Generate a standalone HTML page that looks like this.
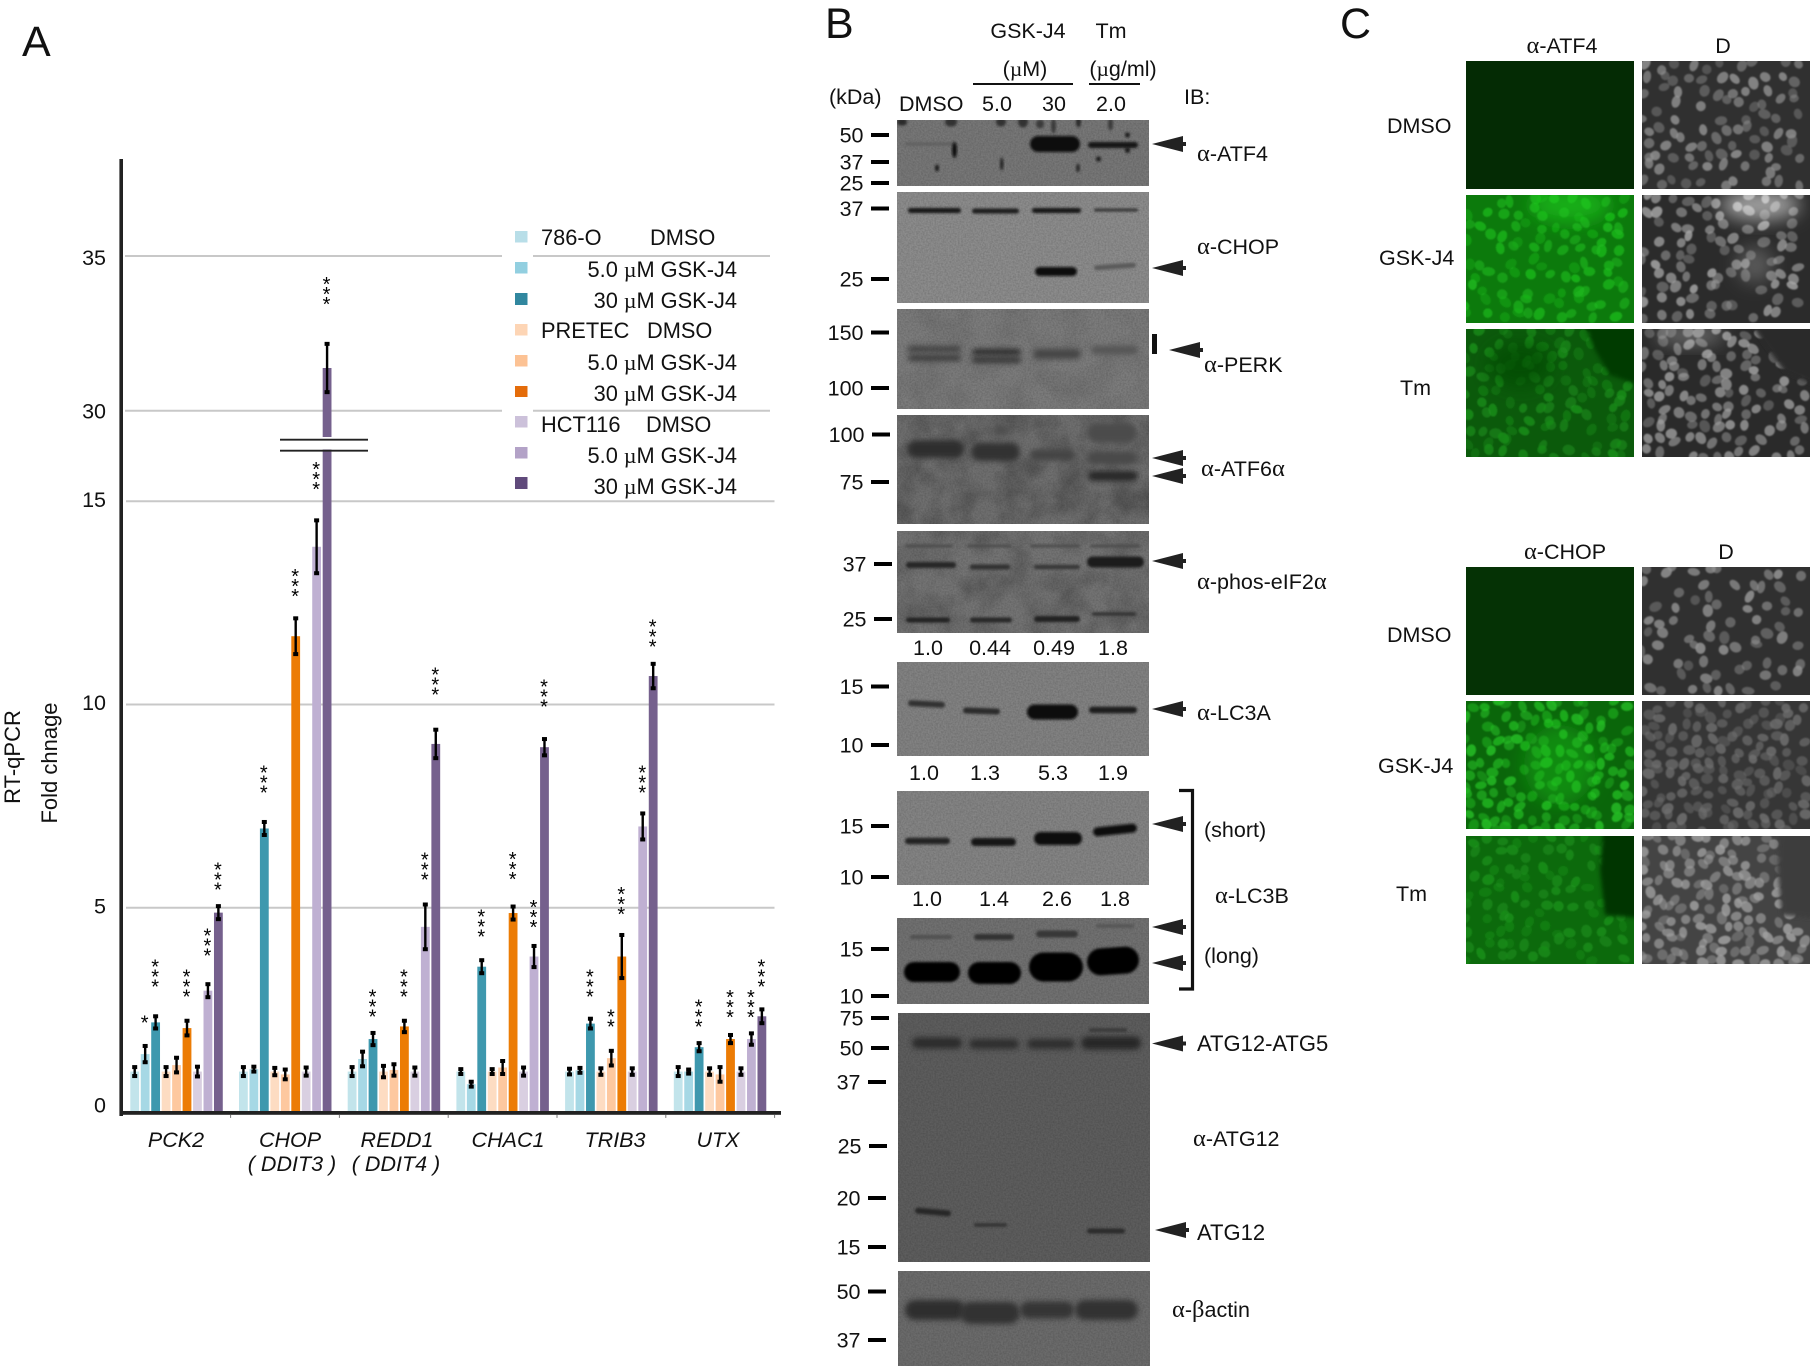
<!DOCTYPE html>
<html lang="en">
<head>
<meta charset="utf-8">
<title>GSK-J4 figure</title>
<style>
html,body{margin:0;padding:0;background:#fff}
svg{display:block}
text{font-family:"Liberation Sans",Arial,sans-serif;fill:#111;font-size:21.5px}
.g{font-family:"Liberation Serif",serif}
.a{font-size:24.5px}
.lg text{font-size:21.8px}
.lt{font-size:43px}
.it{font-style:italic}
</style>
</head>
<body>
<svg id="fig" xmlns="http://www.w3.org/2000/svg" width="1811" height="1366" viewBox="0 0 1811 1366">
<defs>
<filter id="b05" x="-20%" y="-20%" width="140%" height="140%"><feGaussianBlur stdDeviation="0.8"/></filter>
<filter id="b1" x="-30%" y="-300%" width="160%" height="700%"><feGaussianBlur stdDeviation="1.4"/></filter>
<filter id="b2" x="-30%" y="-300%" width="160%" height="700%"><feGaussianBlur stdDeviation="2.8"/></filter>
<filter id="b3" x="-30%" y="-30%" width="160%" height="160%"><feGaussianBlur stdDeviation="2"/></filter>
<filter id="b8" x="-50%" y="-50%" width="200%" height="200%"><feGaussianBlur stdDeviation="9"/></filter>
<filter id="noise" x="0" y="0" width="100%" height="100%"><feTurbulence type="fractalNoise" baseFrequency="0.6" numOctaves="2" seed="3"/><feColorMatrix values="0 0 0 0 0  0 0 0 0 0  0 0 0 0 0  1.2 0 0 0 -0.35"/></filter>
<filter id="mottle" x="0" y="0" width="100%" height="100%"><feTurbulence type="fractalNoise" baseFrequency="0.035" numOctaves="3" seed="8"/><feColorMatrix values="0 0 0 0 0  0 0 0 0 0  0 0 0 0 0  1.6 0 0 0 -0.55"/></filter>
</defs>

<g id="panel-a">
<text class="lt" x="22" y="56">A</text>
<g id="grid"></g>
<g id="yticks"></g>
<g id="bars"></g>
<g id="brk"></g>
<g id="errs"></g>
<g id="stars"></g>
<rect x="119.4" y="159" width="3.6" height="957" fill="#222"/>
<rect x="120" y="1111" width="661" height="3.8" fill="#222"/>
<g id="xticks"></g>
<text transform="translate(20,757) rotate(-90)" text-anchor="middle" style="font-size:22px">RT-qPCR</text>
<text transform="translate(57,763) rotate(-90)" text-anchor="middle" style="font-size:22px">Fold chnage</text>
<g class="it">
<text class="it" x="176" y="1147" text-anchor="middle">PCK2</text>
<text class="it" x="290" y="1147" text-anchor="middle">CHOP</text>
<text class="it" x="292" y="1171" text-anchor="middle">( DDIT3 )</text>
<text class="it" x="397" y="1147" text-anchor="middle">REDD1</text>
<text class="it" x="396" y="1171" text-anchor="middle">( DDIT4 )</text>
<text class="it" x="508" y="1147" text-anchor="middle">CHAC1</text>
<text class="it" x="615" y="1147" text-anchor="middle">TRIB3</text>
<text class="it" x="718" y="1147" text-anchor="middle">UTX</text>
</g>
<g class="lg">
<rect x="515" y="231" width="12.5" height="11.5" fill="#b8dee8"/>
<rect x="515" y="262" width="12.5" height="11.5" fill="#92cfe0"/>
<rect x="515" y="293" width="12.5" height="12" fill="#31879f"/>
<rect x="515" y="324" width="12.5" height="11.5" fill="#fdd5b5"/>
<rect x="515" y="355" width="12.5" height="11.5" fill="#fcc294"/>
<rect x="515" y="386" width="12.5" height="11" fill="#e46c0a"/>
<rect x="515" y="416" width="12.5" height="11.5" fill="#ccc1da"/>
<rect x="515" y="447" width="12.5" height="11.5" fill="#b3a2c7"/>
<rect x="515" y="477" width="12.5" height="12" fill="#604a7b"/>
<text x="541" y="245">786-O</text>
<text x="650" y="245">DMSO</text>
<text x="737" y="277" text-anchor="end">5.0 <tspan class="g">µ</tspan>M GSK-J4</text>
<text x="737" y="308" text-anchor="end">30 <tspan class="g">µ</tspan>M GSK-J4</text>
<text x="541" y="338">PRETEC</text>
<text x="647" y="338">DMSO</text>
<text x="737" y="370" text-anchor="end">5.0 <tspan class="g">µ</tspan>M GSK-J4</text>
<text x="737" y="401" text-anchor="end">30 <tspan class="g">µ</tspan>M GSK-J4</text>
<text x="541" y="432">HCT116</text>
<text x="646" y="432">DMSO</text>
<text x="737" y="463" text-anchor="end">5.0 <tspan class="g">µ</tspan>M GSK-J4</text>
<text x="737" y="494" text-anchor="end">30 <tspan class="g">µ</tspan>M GSK-J4</text>
</g>
</g>

<g id="panel-b">
<text class="lt" x="825" y="38">B</text>
<g>
<text x="1028" y="38" text-anchor="middle">GSK-J4</text>
<text x="1111" y="38" text-anchor="middle">Tm</text>
<text x="1025" y="76" text-anchor="middle">(<tspan class="g">µ</tspan>M)</text>
<text x="1123" y="76" text-anchor="middle">(<tspan class="g">µ</tspan>g/ml)</text>
<rect x="973" y="83" width="100" height="2" fill="#111"/>
<rect x="1089" y="83" width="51" height="2" fill="#111"/>
<text x="829" y="104">(kDa)</text>
<text x="899" y="111">DMSO</text>
<text x="997" y="111" text-anchor="middle">5.0</text>
<text x="1054" y="111" text-anchor="middle">30</text>
<text x="1111" y="111" text-anchor="middle">2.0</text>
<text x="1184" y="104">IB:</text>
</g>
<g id="blots"></g>
<g id="mw"></g>
<g id="arrows"></g>
<rect x="1152" y="334" width="5" height="20" fill="#111"/>
<path d="M1179 790.5H1192.5V989H1179" fill="none" stroke="#111" stroke-width="3.2"/>
<g>
<text x="1197" y="161"><tspan class="g a">α</tspan>-ATF4</text>
<text x="1197" y="254"><tspan class="g a">α</tspan>-CHOP</text>
<text x="1204" y="372"><tspan class="g a">α</tspan>-PERK</text>
<text x="1201" y="476"><tspan class="g a">α</tspan>-ATF6<tspan class="g a">α</tspan></text>
<text x="1197" y="589"><tspan class="g a">α</tspan>-phos-eIF2<tspan class="g a">α</tspan></text>
<text x="1197" y="720"><tspan class="g a">α</tspan>-LC3A</text>
<text x="1204" y="837">(short)</text>
<text x="1215" y="903"><tspan class="g a">α</tspan>-LC3B</text>
<text x="1204" y="963">(long)</text>
<text x="1197" y="1051" style="font-size:22px">ATG12-ATG5</text>
<text x="1193" y="1146"><tspan class="g a">α</tspan>-ATG12</text>
<text x="1197" y="1240" style="font-size:22px">ATG12</text>
<text x="1172" y="1317"><tspan class="g a">α</tspan>-<tspan class="g a">β</tspan>actin</text>
</g>
<g>
<text x="928" y="655" text-anchor="middle">1.0</text>
<text x="990" y="655" text-anchor="middle">0.44</text>
<text x="1054" y="655" text-anchor="middle">0.49</text>
<text x="1113" y="655" text-anchor="middle">1.8</text>
<text x="924" y="780" text-anchor="middle">1.0</text>
<text x="985" y="780" text-anchor="middle">1.3</text>
<text x="1053" y="780" text-anchor="middle">5.3</text>
<text x="1113" y="780" text-anchor="middle">1.9</text>
<text x="927" y="906" text-anchor="middle">1.0</text>
<text x="994" y="906" text-anchor="middle">1.4</text>
<text x="1057" y="906" text-anchor="middle">2.6</text>
<text x="1115" y="906" text-anchor="middle">1.8</text>
</g>
</g>

<g id="panel-c">
<text class="lt" x="1340" y="38">C</text>
<g id="micro"></g>
<g>
<text x="1562" y="53" text-anchor="middle"><tspan class="g a">α</tspan>-ATF4</text>
<text x="1723" y="53" text-anchor="middle">D</text>
<text x="1387" y="133">DMSO</text>
<text x="1379" y="265">GSK-J4</text>
<text x="1400" y="395">Tm</text>
<text x="1565" y="559" text-anchor="middle"><tspan class="g a">α</tspan>-CHOP</text>
<text x="1726" y="559" text-anchor="middle">D</text>
<text x="1387" y="642">DMSO</text>
<text x="1378" y="773">GSK-J4</text>
<text x="1396" y="901">Tm</text>
</g>
</g>
</svg>

<script>
// ---- chart data (panel A) ----
const categories = ['PCK2', 'CHOP', 'REDD1', 'CHAC1', 'TRIB3', 'UTX'];
const seriesNames = ['786o-dmso', '786o-5um', '786o-30um', 'pretec-dmso', 'pretec-5um', 'pretec-30um', 'hct116-dmso', 'hct116-5um', 'hct116-30um'];
const pck2Values  = [0.97, 1.40, 2.18, 0.97, 1.13, 2.04, 0.97, 2.96, 4.88];
const chopValues  = [0.97, 1.03, 6.95, 0.97, 0.90, 11.68, 0.97, 13.88, 31.38];
const redd1Values = [0.97, 1.28, 1.77, 0.97, 1.01, 2.08, 0.97, 4.53, 9.03];
const chac1Values = [0.97, 0.66, 3.55, 0.97, 1.07, 4.87, 0.97, 3.80, 8.95];
const trib3Values = [0.97, 1.00, 2.15, 0.97, 1.30, 3.80, 0.97, 7.00, 10.70];
const utxValues   = [0.97, 0.97, 1.57, 0.97, 0.90, 1.77, 0.97, 1.77, 2.33];
const pck2Errors  = [0.11, 0.20, 0.15, 0.11, 0.18, 0.18, 0.12, 0.16, 0.16];
const chopErrors  = [0.11, 0.06, 0.16, 0.09, 0.12, 0.44, 0.10, 0.65, 0.78];
const redd1Errors = [0.11, 0.18, 0.15, 0.14, 0.14, 0.14, 0.10, 0.55, 0.35];
const chac1Errors = [0.06, 0.06, 0.16, 0.06, 0.16, 0.16, 0.10, 0.26, 0.20];
const trib3Errors = [0.07, 0.06, 0.12, 0.08, 0.18, 0.53, 0.08, 0.32, 0.30];
const utxErrors   = [0.11, 0.05, 0.10, 0.08, 0.18, 0.10, 0.08, 0.14, 0.17];
// number of significance stars per bar
const pck2Stars  = [0, 1, 3, 0, 0, 3, 0, 3, 3];
const chopStars  = [0, 0, 3, 0, 0, 3, 0, 3, 3];
const redd1Stars = [0, 0, 3, 0, 0, 3, 0, 3, 3];
const chac1Stars = [0, 0, 3, 0, 0, 3, 0, 3, 3];
const trib3Stars = [0, 0, 3, 0, 2, 3, 0, 3, 3];
const utxStars   = [0, 0, 3, 0, 0, 3, 0, 3, 3];
// axis value at which the lowest star of each annotation sits
const pck2StarLevel  = [0, 2.28, 3.16, 0, 0, 2.91, 0, 3.92, 5.55];
const chopStarLevel  = [0, 0, 7.93, 0, 0, 12.77, 0, 17.68, 33.58];
const redd1StarLevel = [0, 0, 2.42, 0, 0, 2.91, 0, 5.79, 10.34];
const chac1StarLevel = [0, 0, 4.39, 0, 0, 5.80, 0, 4.62, 10.05];
const trib3StarLevel = [0, 0, 2.91, 0, 2.18, 4.95, 0, 7.93, 11.53];
const utxStarLevel   = [0, 0, 2.18, 0, 0, 2.41, 0, 2.41, 3.16];
const yTickLabels = [0, 5, 10, 15, 30, 35];

const geneValues = [pck2Values, chopValues, redd1Values, chac1Values, trib3Values, utxValues];
const geneErrors = [pck2Errors, chopErrors, redd1Errors, chac1Errors, trib3Errors, utxErrors];
const geneStars = [pck2Stars, chopStars, redd1Stars, chac1Stars, trib3Stars, utxStars];
const geneStarLevels = [pck2StarLevel, chopStarLevel, redd1StarLevel, chac1StarLevel, trib3StarLevel, utxStarLevel];
const barColors = ['#c2e4eb', '#a6d8e5', '#3e98ae', '#fddcc2', '#fdc89f', '#ec7c05', '#d9cfe1', '#bfb0d2', '#75608d'];

const NS = 'http://www.w3.org/2000/svg';
function mk(tag, parent, attrs) {
  const el = document.createElementNS(NS, tag);
  for (const k in attrs) el.setAttribute(k, attrs[k]);
  parent.appendChild(el);
  return el;
}

// axes: y is broken between 15 and 30
function yScale(v) {
  const y0 = 1111, lowPx = 40.65, y30 = 410.7, highPx = 30.94;
  const y15 = y0 - 15 * lowPx;
  if (v <= 15) return y0 - v * lowPx;
  if (v < 30) return y15 + (v - 15) * (y30 - y15) / 15;
  return y30 - (v - 30) * highPx;
}
function xScale(gene, series) {
  return 134.7 + gene * 108.7 + series * 10.46;
}
function tickBaseline(t) {
  const y = yScale(t);
  if (t === 0) return y + 1.5;
  if (t >= 35) return y + 9;
  if (t >= 30) return y + 8;
  return y + 5.5;
}

const gridG = document.getElementById('grid');
const ytG = document.getElementById('yticks');
yTickLabels.forEach(function (t) {
  const y = yScale(t);
  if (t > 0) {
    const spans = t >= 30 ? [[125, 502], [533, 770]] : [[126, 774.5]];
    spans.forEach(function (s) {
      const ln = mk('line', gridG, { x1: s[0], x2: s[1], y1: y, y2: y, stroke: '#c8c8c8', 'stroke-width': 2 });
      
      
    });
  }
  const tx = mk('text', ytG, { x: 106, y: tickBaseline(t), 'text-anchor': 'end' });
  tx.textContent = t;
  
  
});

const barsG = document.getElementById('bars');
const errsG = document.getElementById('errs');
const starsG = document.getElementById('stars');
categories.forEach(function (cat, g) {
  seriesNames.forEach(function (sname, s) {
    const v = geneValues[g][s], e = geneErrors[g][s], cx = xScale(g, s);
    const bar = mk('rect', barsG, { x: cx - 4.4, width: 8.8, y: yScale(v), height: yScale(0) - yScale(v), fill: barColors[s] });
    
    
    const top = yScale(v + e), bot = yScale(v - e);
    const eb = mk('path', errsG, { d: 'M' + cx + ' ' + top + 'V' + bot, stroke: '#000', 'stroke-width': 2.4, fill: 'none' });
    
    
    [top, bot].forEach(function (cy) {
      const cap = mk('rect', errsG, { x: cx - 2.5, y: cy - 2, width: 5, height: 4, fill: '#000' });
      
      
    });
    for (let k = 0; k < geneStars[g][s]; k++) {
      const st = mk('text', starsG, { x: cx - 0.5, y: yScale(geneStarLevels[g][s]) - k * 10 + 11, 'text-anchor': 'middle', style: 'font-size:20px;fill:#000' });
      st.textContent = '*';
      
      
    }
  });
  const tick = mk('rect', document.getElementById('xticks'), { x: 121.8 + (g + 1) * 108.8 - 0.5, y: 1114.7, width: 1, height: 3.2, fill: '#777' });
  
  
});

// axis break
const brkG = document.getElementById('brk');
const brkGap = mk('rect', brkG, { x: 280, y: 437, width: 88, height: 12.5, fill: '#fff' });


[439.7, 450.7].forEach(function (y) {
  const l = mk('line', brkG, { x1: 280, x2: 368, y1: y, y2: y, stroke: '#222', 'stroke-width': 1.8 });
  
  
});

// ---- panel B: blots ----
const blotsG = document.getElementById('blots');
function blot(name, x, y, w, h, fill, mottle) {
  const g = mk('g', blotsG, {});
  
  
  const r = mk('rect', g, { x: x, y: y, width: w, height: h, fill: fill });
  
  
  const clipId = 'clip-' + name;
  const defs = mk('clipPath', g, { id: clipId });
  mk('rect', defs, { x: x, y: y, width: w, height: h });
  g.setAttribute('clip-path', 'url(#' + clipId + ')');
  const n = mk('rect', g, { x: x, y: y, width: w, height: h, filter: 'url(#noise)', opacity: 0.22 });
  
  
  if (mottle) {
    const m = mk('rect', g, { x: x, y: y, width: w, height: h, filter: 'url(#mottle)', opacity: mottle });
    
    
  }
  return function band(bx, by, bw, bh, color, blur, rot) {
    const b = mk('rect', g, { x: bx, y: by - bh / 2, width: bw, height: bh, rx: bh / 2, ry: bh / 2, fill: color, filter: 'url(#b' + blur + ')' });
    if (rot) b.setAttribute('transform', 'rotate(' + rot + ' ' + (bx + bw / 2) + ' ' + by + ')');
    
    
    return b;
  };
}

let b = blot('atf4', 897, 120, 252, 66, '#787878');
b(1030, 144, 50, 16, '#0a0a0a', 1);
b(1088, 145, 50, 6, '#161616', 1);
b(905, 144, 50, 3, '#5f5f5f', 1);
b(952, 150, 5, 16, '#101010', 1);
b(935, 168, 4, 7, '#161616', 1);
b(1000, 164, 3.5, 13, '#222', 1);
b(1076, 168, 4, 9, '#2a2a2a', 1);
b(1096, 159, 5, 5, '#181818', 1);
b(1125, 135, 5, 5, '#181818', 1);
b(1125, 150, 5, 6, '#181818', 1);
b(897, 122, 10, 7, '#2a2a2a', 1);
b(945, 122, 12, 9, '#333', 1);
b(996, 122, 10, 9, '#333', 1);
b(1018, 122, 10, 11, '#333', 1);
b(1036, 124, 8, 9, '#3a3a3a', 1);
b(1051, 126, 5, 15, '#3a3a3a', 1);
b(1076, 122, 5, 11, '#2a2a2a', 1);
b(1108, 124, 5, 13, '#3a3a3a', 1);

b = blot('chop', 897, 192, 252, 111, '#8d8d8d');
b(908, 210.5, 53, 5, '#151515', 1);
b(972, 211, 47, 5, '#1b1b1b', 1);
b(1032, 210.5, 49, 5, '#151515', 1);
b(1094, 210, 44, 3, '#333', 1);
b(1035, 271.5, 42, 9, '#0a0a0a', 1);
b(1094, 266.5, 42, 5, '#5a5a5a', 1, -4);

b = blot('perk', 897, 309, 252, 100, '#7d7d7d', 0.1);
b(908, 349, 53, 5, '#383838', 2);
b(908, 358, 53, 6, '#383838', 2);
b(972, 352, 49, 6, '#262626', 2);
b(972, 360, 49, 6, '#333', 2);
b(1033, 354, 48, 10, '#454545', 2);
b(1091, 350, 47, 8, '#525252', 2);

b = blot('atf6', 897, 415, 252, 109, '#707070', 0.3);
b(907, 449, 57, 18, '#2e2e2e', 2);
b(971, 452, 49, 18, '#303030', 2);
b(1030, 455, 45, 11, '#454545', 2);
b(1087, 433, 50, 20, '#4c4c4c', 2);
b(1087, 458, 50, 13, '#4a4a4a', 2);
b(1088, 476, 50, 10, '#272727', 2);
b(994, 430, 14, 10, '#4e4e4e', 2);

b = blot('phos-eif2', 897, 531, 252, 102, '#757575', 0.25);
[[905, 48], [967, 44], [1030, 50], [1090, 50]].forEach(function (p) { b(p[0], 546, p[1], 3, '#4e4e4e', 1); });
b(906, 565, 50, 6, '#262626', 1);
b(970, 567, 40, 5, '#303030', 1);
b(1034, 567, 46, 4.5, '#383838', 1);
b(1087, 562, 57, 11, '#1e1e1e', 1);
b(906, 620, 44, 5, '#222', 1);
b(970, 620, 42, 5, '#262626', 1);
b(1034, 619, 46, 6, '#222', 1);
b(1092, 614, 44, 3.5, '#333', 1);

b = blot('lc3a', 897, 662, 252, 94, '#838383');
b(908, 704, 37, 6, '#333', 1, 3);
b(963, 711, 37, 6, '#2a2a2a', 1, 2);
b(1027, 712, 51, 15, '#080808', 1);
b(1089, 710, 48, 6.5, '#1c1c1c', 1);

b = blot('lc3b-short', 897, 791, 252, 94, '#858585');
b(905, 841, 45, 6.5, '#222', 1);
b(971, 842, 45, 8, '#181818', 1);
b(1034, 838.5, 48, 13, '#0a0a0a', 1);
b(1093, 830, 44, 9, '#0a0a0a', 1, -6);

b = blot('lc3b-long', 897, 918, 252, 86, '#727272');
b(910, 937, 42, 4, '#505050', 1);
b(974, 937, 40, 6, '#333', 1);
b(1036, 934, 42, 7, '#383838', 1);
b(1096, 926, 38, 3.5, '#555', 1);
b(904, 972, 56, 20, '#030303', 1);
b(968, 973, 53, 22, '#030303', 1);
b(1029, 967, 54, 29, '#030303', 1);
b(1087, 961, 52, 27, '#030303', 1, -4);

b = blot('atg12', 898, 1013, 252, 249, '#5e5e5e');
b(912, 1043, 50, 11, '#2a2a2a', 2);
b(969, 1044, 50, 10, '#2e2e2e', 2);
b(1027, 1044, 48, 10, '#2e2e2e', 2);
b(1081, 1043, 60, 13, '#282828', 2);
b(1089, 1030, 38, 3.5, '#383838', 1);
b(915, 1212, 36, 6, '#262626', 1, 5);
b(974, 1225, 33, 3.5, '#333', 1);
b(1087, 1231, 38, 5, '#2c2c2c', 1);

b = blot('beta-actin', 898, 1271, 252, 95, '#6c6c6c');
b(905, 1310, 60, 20, '#2e2e2e', 2);
b(960, 1313, 60, 22, '#303030', 2);
b(1020, 1310, 54, 17, '#363636', 2);
b(1075, 1310, 63, 20, '#303030', 2);

// MW markers
const mwG = document.getElementById('mw');
function mw(label, y, x0) {
  const t = mk('rect', mwG, { x: x0, y: y - 2, width: 18, height: 4, fill: '#000' });
  
  
  const tx = mk('text', mwG, { x: x0 - 7.5, y: y + 7.5, 'text-anchor': 'end' });
  tx.textContent = label;
  
  
}
mw('50', 135, 871); mw('37', 162, 871); mw('25', 183, 871);
mw('37', 208.5, 871); mw('25', 279, 871);
mw('150', 332.5, 871); mw('100', 388, 871);
mw('100', 434.5, 872); mw('75', 482, 871);
mw('37', 564, 874); mw('25', 619, 874);
mw('15', 686.5, 871); mw('10', 745, 871);
mw('15', 826, 871); mw('10', 877, 871);
mw('15', 949, 871); mw('10', 996, 871);
mw('75', 1018, 871); mw('50', 1048, 871); mw('37', 1082, 868); mw('25', 1146, 869); mw('20', 1198, 868); mw('15', 1247, 868);
mw('50', 1291.5, 868); mw('37', 1340, 868);

// arrows
const arG = document.getElementById('arrows');
function arrow(x, y) {
  const p = mk('polygon', arG, { points: [x, y, x + 31, y - 8, x + 31, y - 2, x + 34, y - 2, x + 34, y + 2, x + 31, y + 2, x + 31, y + 8].join(' '), fill: '#222' });
  
  
}
[[1152, 144], [1152, 268], [1169, 350], [1152, 458], [1152, 476], [1152, 561], [1152, 709], [1152, 824], [1152, 927], [1152, 963], [1152, 1043.5], [1155, 1230]].forEach(function (a) { arrow(a[0], a[1]); });

// ---- panel C: micrographs ----
const microG = document.getElementById('micro');
let seed = 12345;
function rnd() {
  seed = (seed * 1664525 + 1013904223) % 4294967296;
  return seed / 4294967296;
}
function panel(name, x, y, bg, nuc, opts) {
  const w = 168, h = 128;
  opts = opts || {};
  const g = mk('g', microG, {});
  
  
  const cid = 'pc-' + name;
  const cp = mk('clipPath', g, { id: cid });
  mk('rect', cp, { x: x, y: y, width: w, height: h });
  g.setAttribute('clip-path', 'url(#' + cid + ')');
  const r = mk('rect', g, { x: x, y: y, width: w, height: h, fill: bg });
  
  
  if (nuc) {
    const step = opts.step || 15;
    const ng = mk('g', g, { filter: 'url(#b05)' });
    for (let yy = y + 4; yy < y + h; yy += step * 0.86) {
      for (let xx = x + 4; xx < x + w; xx += step) {
        if (rnd() < (opts.skip || 0.16)) continue;
        const cx = xx + (rnd() - 0.5) * step * 0.8, cy = yy + (rnd() - 0.5) * step * 0.7;
        const rx = 4.6 + rnd() * 2, ry = 3.8 + rnd() * 1.5;
        const e = mk('ellipse', ng, { cx: cx, cy: cy, rx: rx, ry: ry, fill: nuc, 'fill-opacity': 0.35 + rnd() * 0.5, transform: 'rotate(' + Math.round(rnd() * 180) + ' ' + cx + ' ' + cy + ')' });
        
        
      }
    }
  }
  (opts.glows || []).forEach(function (o) {
    const e = mk('ellipse', g, { cx: o[0], cy: o[1], rx: o[2], ry: o[3], fill: o[4], 'fill-opacity': o[5], filter: 'url(#b8)' });
    
    
  });
  if (opts.dark) {
    const d = mk('polygon', g, { points: opts.dark, fill: opts.darkFill || bg, filter: 'url(#b3)' });
    
    
  }
}
const gL = 1466, gR = 1642;
panel('atf4-dmso', gL, 61, '#042b04', null);
panel('atf4-gsk', gL, 195, '#0c7a0c', '#1cb81c', { glows: [[1570, 205, 40, 18, '#22d022', 0.6]] });
panel('atf4-tm', gL, 329, '#0b5a0b', '#1b8f1b', { step: 14, glows: [[1520, 365, 32, 22, '#094a09', 0.7]], dark: '1585,325 1640,325 1640,385 1610,375 1595,350', darkFill: '#043a04' });
panel('dapi-atf4-dmso', gR, 61, '#303030', '#929292', {});
panel('dapi-atf4-gsk', gR, 195, '#2b2b2b', '#a8a8a8', { glows: [[1760, 205, 40, 15, '#ffffff', 0.55], [1755, 265, 18, 18, '#e8e8e8', 0.25]] });
panel('dapi-atf4-tm', gR, 329, '#2a2a2a', '#a2a2a2', { step: 14, glows: [[1690, 335, 35, 10, '#ffffff', 0.3]], dark: '1752,325 1815,325 1815,385 1785,372 1765,345', darkFill: '#2c2c2c' });
panel('chop-dmso', gL, 567, '#053205', null);
panel('chop-gsk', gL, 701, '#0a660a', '#25c025', { step: 13, glows: [[1560, 765, 36, 40, '#22d022', 0.35]] });
panel('chop-tm', gL, 836, '#0c6a0c', '#1b901b', { dark: '1603,830 1640,830 1640,918 1605,915 1600,870', darkFill: '#033403' });
panel('dapi-chop-dmso', gR, 567, '#303030', '#959595', { skip: 0.32 });
panel('dapi-chop-gsk', gR, 701, '#363636', '#707070', { step: 13, skip: 0.08 });
panel('dapi-chop-tm', gR, 836, '#444444', '#a2a2a2', { step: 13, skip: 0.08, dark: '1780,830 1815,830 1815,918 1782,915 1778,870', darkFill: '#3c3c3c' });
</script>
</body>
</html>
